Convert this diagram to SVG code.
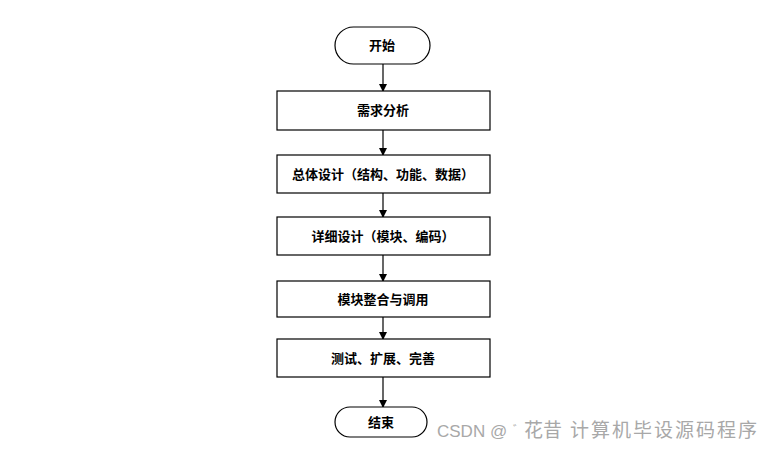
<svg xmlns="http://www.w3.org/2000/svg" width="776" height="450" viewBox="0 0 776 450">
<style>
.n{fill:#fff;stroke:#000;stroke-width:1.2}
.t{font-family:"Liberation Serif","Noto Sans CJK SC",serif;font-size:13px;font-weight:bold;fill:#000;text-anchor:middle}
.c{stroke:#000;stroke-width:1.2;fill:none;marker-end:url(#a)}
.w{font-family:"Liberation Sans","Noto Sans CJK SC",sans-serif;font-size:17px;fill:#a8a8a8}
</style>
<defs><marker id="a" markerWidth="8" markerHeight="8" refX="7" refY="4" orient="auto" markerUnits="userSpaceOnUse"><path d="M0,0 L8,4 L0,8 Z" fill="#000"/></marker></defs>
<rect width="776" height="450" fill="#fff"/>
<g id="connectors">
<line class="c" x1="383" y1="64" x2="383" y2="91"/>
<line class="c" x1="383" y1="130" x2="383" y2="155"/>
<line class="c" x1="383" y1="193" x2="383" y2="217"/>
<line class="c" x1="383" y1="255" x2="383" y2="281"/>
<line class="c" x1="383" y1="317" x2="383" y2="339"/>
<line class="c" x1="383" y1="377" x2="383" y2="407"/>
</g>
<g id="start"><rect class="n" x="335" y="27" width="95" height="37" rx="18.5"/><text class="t" x="382" y="50">开始</text></g>
<g id="n1"><rect class="n" x="277" y="91" width="213" height="39"/><text class="t" x="383" y="115">需求分析</text></g>
<g id="n2"><rect class="n" x="277" y="155" width="213" height="38"/><text class="t" x="383" y="179">总体设计（结构、功能、数据）</text></g>
<g id="n3"><rect class="n" x="277" y="217" width="213" height="38"/><text class="t" x="383" y="241">详细设计（模块、编码）</text></g>
<g id="n4"><rect class="n" x="277" y="281" width="213" height="36"/><text class="t" x="383" y="304">模块整合与调用</text></g>
<g id="n5"><rect class="n" x="277" y="339" width="213" height="38"/><text class="t" x="383" y="363">测试、扩展、完善</text></g>
<g id="end"><rect class="n" x="335" y="407" width="92" height="30" rx="15"/><text class="t" x="381" y="427">结束</text></g>
<text class="w" x="437" y="437">CSDN @ <tspan x="513" style="font-size:11px" dy="-3">゛</tspan><tspan x="524" dy="3" style="font-size:19px">花昔</tspan><tspan x="570" style="font-size:19px;letter-spacing:2px">计算机毕设源码程序</tspan></text>
</svg>
